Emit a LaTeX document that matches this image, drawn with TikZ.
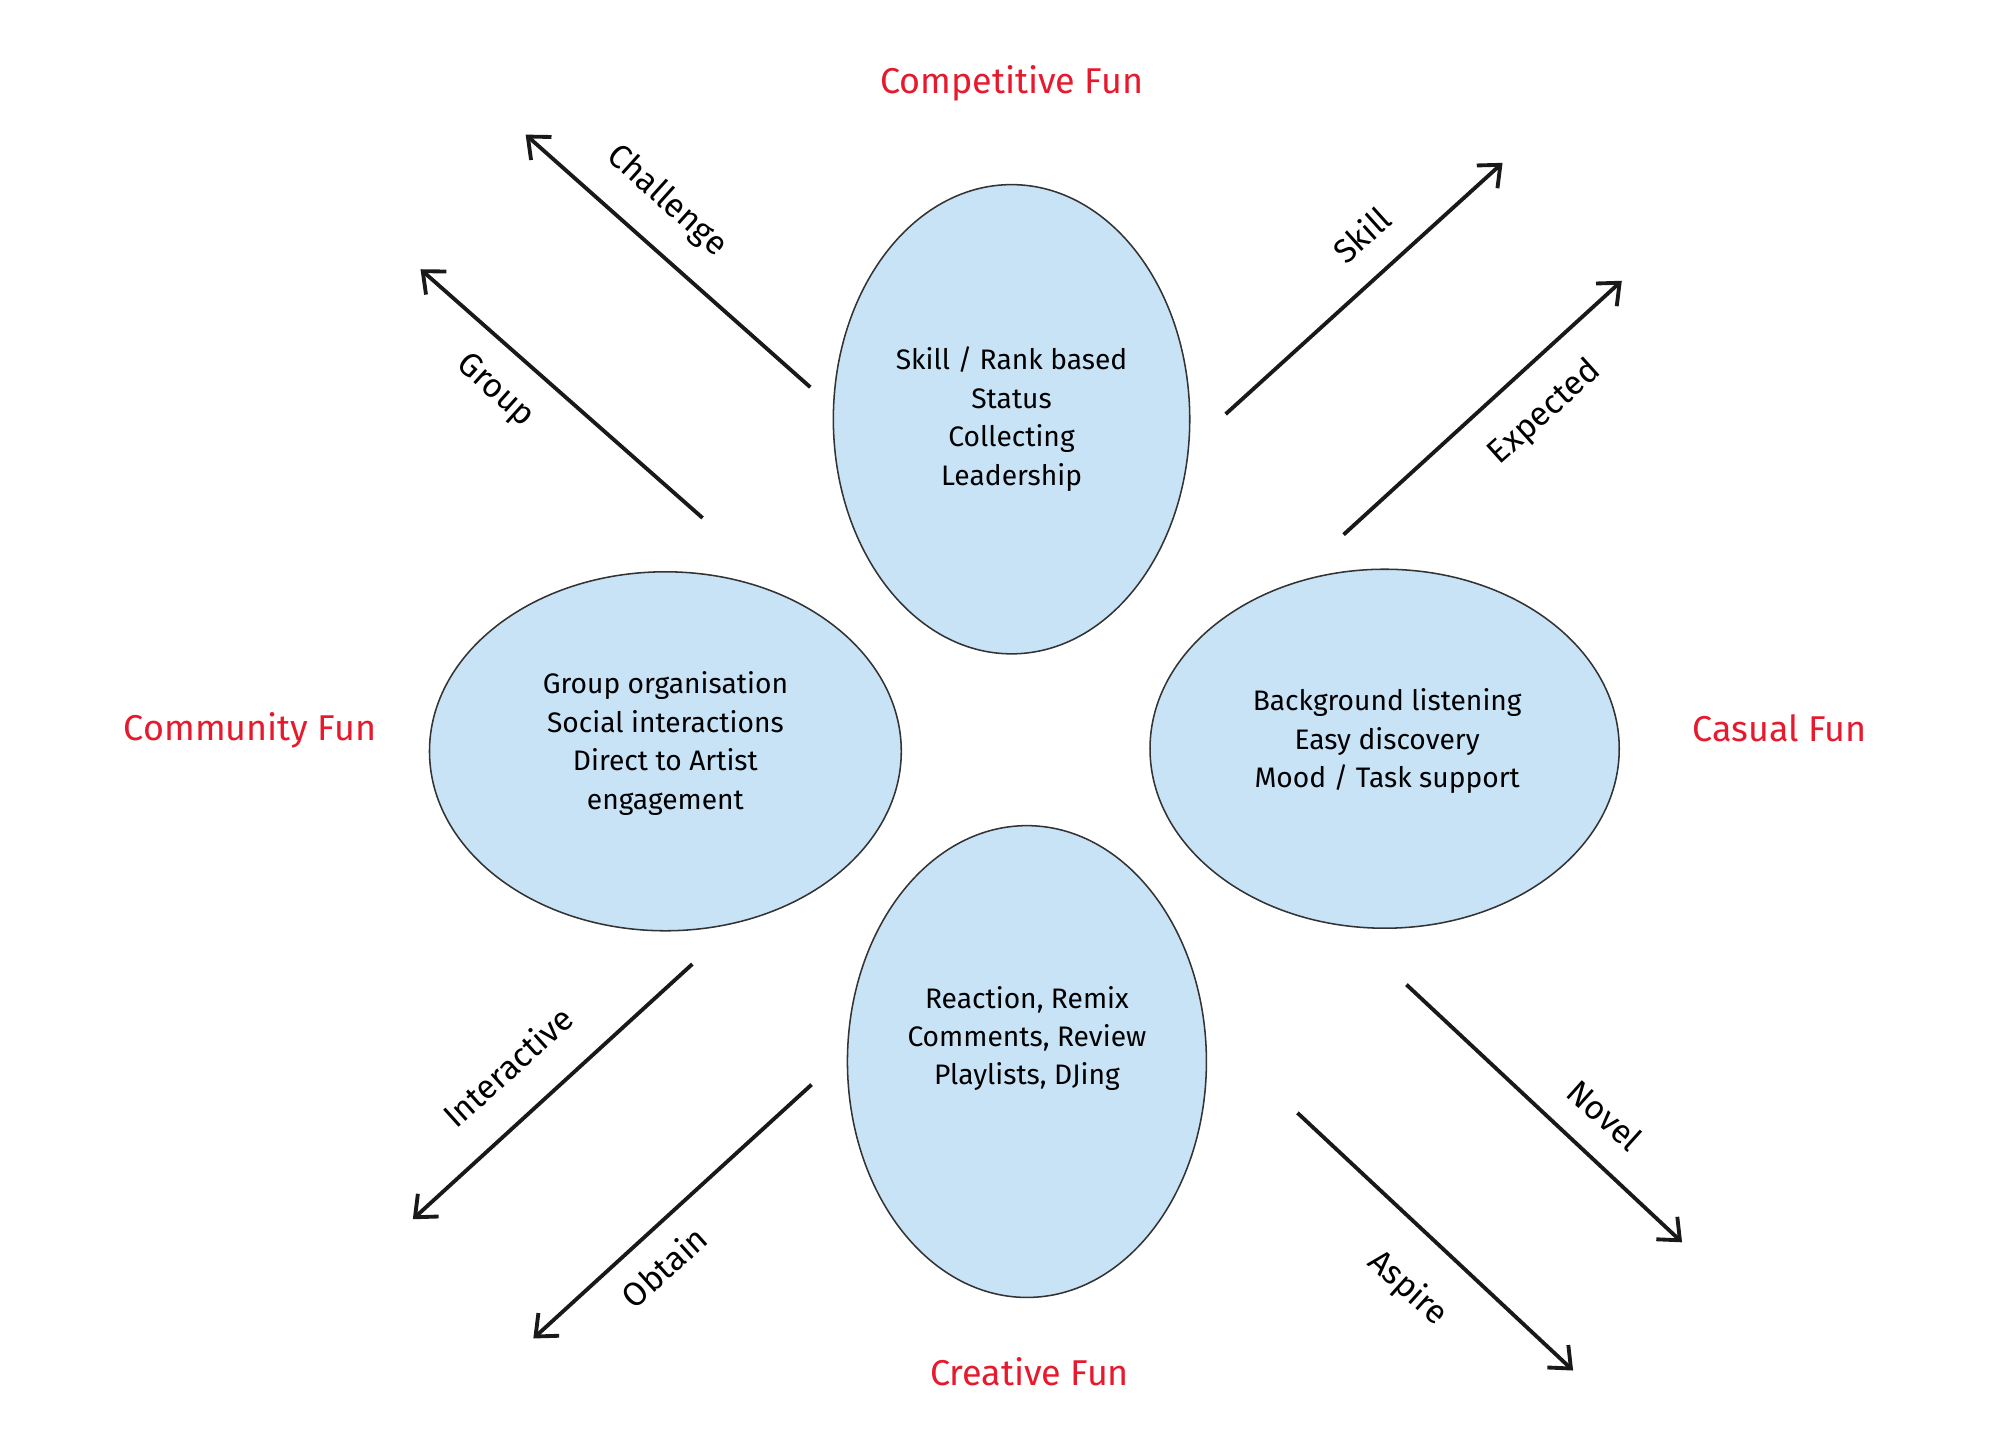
\documentclass[tikz,border=0pt]{standalone}
\usepackage{fontspec}
\setmainfont{Fira Sans}
\usetikzlibrary{arrows.meta}
\definecolor{ered}{RGB}{230,25,45}
\definecolor{efill}{RGB}{200,226,246}
\begin{document}
\begin{tikzpicture}[x=1pt,y=-1pt,
  blob/.style={draw=black!80,line width=1.2pt,fill=efill},
  txt/.style={align=center,font=\fontsize{22}{30}\selectfont},
  cat/.style={text=ered,font=\fontsize{28}{32}\selectfont},
  arr/.style={draw=black!90,line width=3pt,-{Straight Barb[length=14pt,width=24pt]}},
  lab/.style={font=\fontsize{26}{30}\selectfont}]
\useasboundingbox (0,0) rectangle (1560,1124);
\draw[blob] (789,327) ellipse [x radius=139,y radius=183];
\draw[blob] (519,586) ellipse [x radius=184,y radius=140];
\draw[blob] (1080,584) ellipse [x radius=183,y radius=140];
\draw[blob] (801,828) ellipse [x radius=140,y radius=184];
\node[txt] (t) at (789,327) {Skill / Rank based\\Status\\Collecting\\Leadership};
\node[txt] (l) at (519,580) {Group organisation\\Social interactions\\Direct to Artist\\engagement};
\node[txt] (r) at (1082,578) {Background listening\\Easy discovery\\Mood / Task support};
\node[txt] (b) at (801,810) {Reaction, Remix\\Comments, Review\\Playlists, DJing};
\node[cat] (c1) at (789,65) {Competitive Fun};
\node[cat] (c2) at (195,570) {Community Fun};
\node[cat] (c3) at (1388,568) {Casual Fun};
\node[cat] (c4) at (803,1070) {Creative Fun};
\coordinate (a1s) at (632,302); \coordinate (a1e) at (410,105);
\coordinate (a2s) at (548,404); \coordinate (a2e) at (328,210);
\coordinate (a3s) at (956,323); \coordinate (a3e) at (1172,127);
\coordinate (a4s) at (1048,417); \coordinate (a4e) at (1265,219);
\coordinate (a5s) at (540,752); \coordinate (a5e) at (322,951);
\coordinate (a6s) at (633,846); \coordinate (a6e) at (416,1044);
\coordinate (a7s) at (1097,768); \coordinate (a7e) at (1312,969);
\coordinate (a8s) at (1012,868); \coordinate (a8e) at (1227,1069);
\foreach \i in {1,...,8} \draw[arr] (a\i s) -- (a\i e);
\node[lab,rotate=-42] (l1) at (520,157) {Challenge};
\node[lab,rotate=-42] (l2) at (386,305) {Group};
\node[lab,rotate=42] (l3) at (1062,183) {Skill};
\node[lab,rotate=42] (l4) at (1205,322) {Expected};
\node[lab,rotate=42] (l5) at (396,832) {Interactive};
\node[lab,rotate=42] (l6) at (518,988) {Obtain};
\node[lab,rotate=-42] (l7) at (1252,870) {Novel};
\node[lab,rotate=-42] (l8) at (1098,1005) {Aspire};
\end{tikzpicture}
\end{document}
